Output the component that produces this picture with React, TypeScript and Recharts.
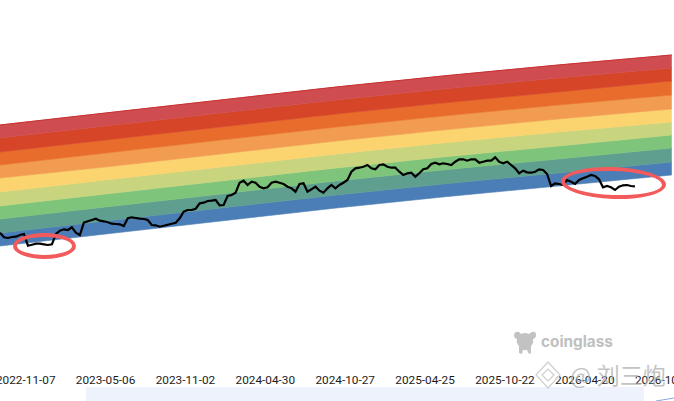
import { ComposedChart, Area, Line, XAxis, YAxis } from "recharts";

// x positions are days counted from 2022-11-07
const tickDays = [0, 180, 360, 540, 720, 900, 1080, 1260, 1440];
const tickLabels = [
  "2022-11-07",
  "2023-05-06",
  "2023-11-02",
  "2024-04-30",
  "2024-10-27",
  "2025-04-25",
  "2025-10-22",
  "2026-04-20",
  "2026-10-17",
];

const bandDays = [-58, 200, 460, 700, 940, 1200, 1456];

// band edges, bottom to top
const edge0 = [119, 132, 145, 157, 168, 179, 190];
const edge1 = [132, 145, 158, 170, 181, 192, 203];
const edge2 = [146, 159, 172, 184, 195, 206, 217];
const edge3 = [159, 172, 185, 197, 208, 219, 230];
const edge4 = [173, 186, 199, 211, 222, 233, 243];
const edge5 = [187, 199, 212, 224, 235, 246, 256];
const edge6 = [200, 213, 226, 238, 249, 260, 270];
const edge7 = [213, 226, 239, 251, 262, 273, 284];
const edge8 = [227, 240, 253, 265, 276, 287, 297];
const edge9 = [240, 253, 266, 278, 289, 300, 310];

const bandEdges = [edge0, edge1, edge2, edge3, edge4, edge5, edge6, edge7, edge8, edge9];
const bandColors = [
  "#4b7db6",
  "#5f9f90",
  "#7fc47b",
  "#c8d57e",
  "#fbd46f",
  "#f19c50",
  "#e86c2c",
  "#d64527",
  "#cf4d50",
];

// one reading every 9 days, first one on 2022-09-05
const priceStart = -58;
const priceStep = 9;
const priceValues = [
  132.3, 127.7, 127, 128, 128.3, 130, 131, 119.3, 120.3, 121.3, 121.3, 120.7, 120, 120.7, 131, 134.3,
  135.7, 135, 137.7, 132.3, 130, 142.3, 143.7, 145, 146.3, 144.3, 143.7, 142.7, 141.3, 141, 140.7, 139,
  146.7, 147.7, 147, 146.3, 146, 145, 140, 139.7, 138.3, 139.3, 140.3, 141.3, 142.3, 146.7, 153.3, 155,
  155, 156.3, 161.7, 162.3, 164, 164.3, 165, 159.7, 160, 169, 170, 172.3, 182.3, 184.3, 180, 183.3,
  182.3, 178.3, 176.7, 177.7, 182.3, 183.3, 182.3, 181, 178.3, 176.7, 173.3, 181, 181.7, 173.3, 175.7, 178.3,
  174.3, 172.3, 176.7, 180, 176.7, 180, 182.3, 185, 193.3, 196.7, 197.3, 198.3, 200, 196.7, 195.7, 200,
  200.7, 198.3, 197.3, 197.3, 193.3, 190, 191.7, 192.3, 188.3, 191.7, 195.7, 196.7, 201, 202.3, 200.7, 201.7,
  201, 200, 203.3, 205.7, 205.7, 204.3, 205.7, 205.7, 202.3, 203.3, 204.3, 204.3, 207.7, 203.3, 201.7, 203.3,
  200, 196.7, 191.7, 194.3, 192.7, 192.3, 193.3, 195.7, 195, 191, 179, 181.7, 181, 180, 185, 183.3,
  181, 185, 186.7, 188.3, 190, 189, 185.7, 177.7, 179, 177.7, 175, 178.3, 179.7, 180, 179, 178.7,
];

const priceRows = priceValues.map((value, i) => ({ day: priceStart + i * priceStep, value }));
const bandRows = bandColors.map((_, b) =>
  bandDays.map((day, i) => ({ day, range: [bandEdges[b][i], bandEdges[b + 1][i]] }))
);
const topRows = bandDays.map((day, i) => ({ day, value: edge9[i] }));

function Ring({ left, top, width, height, tilt }: { left: number; top: number; width: number; height: number; tilt: number }) {
  return (
    <div
      style={{
        position: "absolute",
        left,
        top,
        width,
        height,
        boxSizing: "border-box",
        border: "4.5px solid #f25a5c",
        borderRadius: "50%",
        transform: `rotate(${tilt}deg)`,
      }}
    />
  );
}

export default function App() {
  return (
    <div style={{ position: "absolute", left: 0, top: 0, width: 674, height: 401, overflow: "hidden", background: "#fff" }}>
      <div style={{ position: "absolute", left: 86, top: 387, width: 558, height: 14, background: "#eef2fd" }} />

      <div style={{ position: "absolute", left: 0, top: 0 }}>
        <ComposedChart width={674} height={401} margin={{ top: 0, right: 0, bottom: 0, left: 0 }}>
          <XAxis
            type="number"
            dataKey="day"
            domain={[-58, 1461]}
            ticks={tickDays}
            interval={0}
            tickFormatter={(d: number) => tickLabels[tickDays.indexOf(d)]}
            axisLine={false}
            tickLine={false}
            height={36}
            tickMargin={5}
            tick={{ fontFamily: "Roboto", fontSize: 11.8, fill: "#1c1c1c" }}
          />
          <YAxis hide domain={[0, 365]} />
          {bandRows.map((rows, b) => (
            <Area
              key={b}
              data={rows}
              dataKey="range"
              type="linear"
              fill={bandColors[b]}
              fillOpacity={1}
              stroke={bandColors[b]}
              strokeWidth={0.6}
              dot={false}
              activeDot={false}
              isAnimationActive={false}
            />
          ))}
          <Line data={topRows} dataKey="value" type="linear" stroke="#c9302f" strokeWidth={1} dot={false} activeDot={false} isAnimationActive={false} />
          <Line data={priceRows} dataKey="value" type="linear" stroke="#000" strokeWidth={2.2} strokeLinejoin="miter" dot={false} activeDot={false} isAnimationActive={false} />
        </ComposedChart>
      </div>

      <Ring left={13} top={233} width={63} height={26} tilt={0} />
      <Ring left={561} top={167} width={105} height={32} tilt={2} />

      {/* coinglass mark */}
      <svg style={{ position: "absolute", left: 513, top: 329 }} width={26} height={27}>
        <path
          d="M1 6 Q2 2 6 3 L8 5 Q12 3 16 5 L19 3 Q23 2 23 6 Q23 9 20 10 Q21 14 18 17 L18 24 L16 25 L14 21 L10 21 L9 25 L6 24 L6 17 Q3 14 4 10 Q1 9 1 6 Z"
          fill="#c2c2c2"
        />
      </svg>
      <div style={{ position: "absolute", left: 541, top: 332, fontFamily: "Inter", fontWeight: 700, fontSize: 15.3, color: "#c0c0c0" }}>
        coinglass
      </div>

      {/* repost watermark */}
      <svg style={{ position: "absolute", left: 535, top: 360 }} width={28} height={30}>
        <path d="M13 2 L25 15 L13 28 L1 15 Z M13 9 L19 15 L13 21 L7 15 Z" fill="#fff" fillOpacity={0.8} stroke="#cfcfcf" strokeWidth={1.2} fillRule="evenodd" />
      </svg>
      <div
        style={{
          position: "absolute",
          left: 570,
          top: 360,
          fontFamily: "Noto Sans CJK SC",
          fontSize: 22,
          lineHeight: "28px",
          color: "#b0b0b0",
          opacity: 0.75,
          whiteSpace: "nowrap",
        }}
      >
        @<span style={{ marginLeft: 6, fontSize: 23 }}>刘三炮</span>
      </div>
      <svg style={{ position: "absolute", left: 655, top: 396 }} width={19} height={5}>
        <path d="M1 5 L19 2" stroke="#8aa6e0" strokeWidth={1} fill="none" />
      </svg>
    </div>
  );
}
